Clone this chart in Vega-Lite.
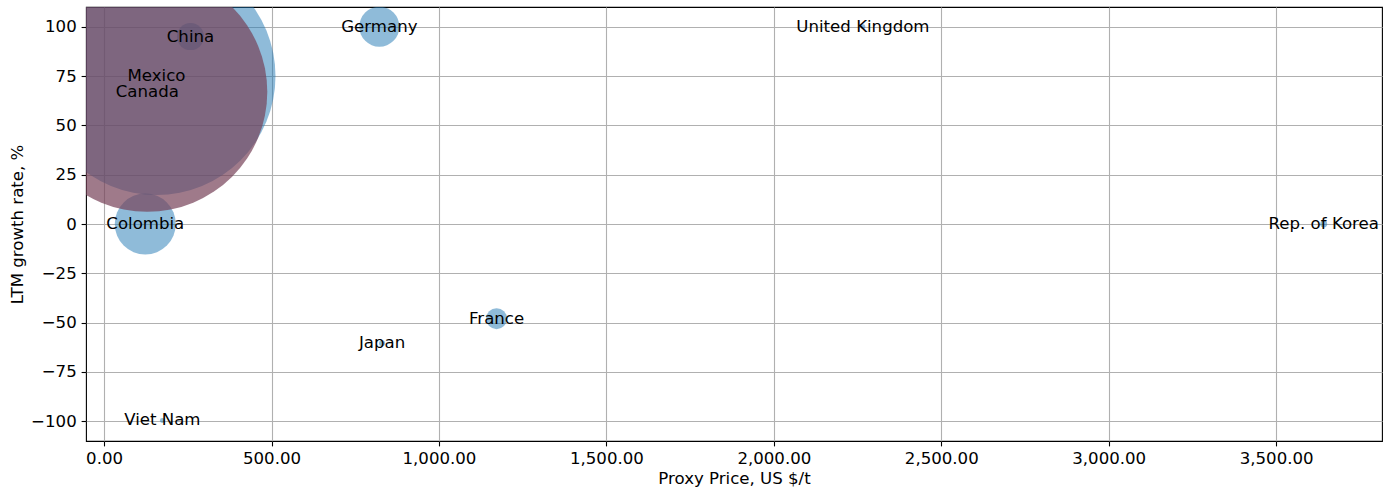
{
  "$schema": "https://vega.github.io/schema/vega-lite/v6.json",
  "width": 1296,
  "height": 434,
  "autosize": {"type": "none"},
  "padding": {"left": 86, "top": 7, "right": 12, "bottom": 50},
  "background": "white",
  "config": {
    "font": "DejaVu Sans",
    "view": {"stroke": "black", "strokeWidth": 1.1},
    "axis": {
      "grid": true,
      "gridColor": "#b0b0b0",
      "gridWidth": 1.1,
      "domain": false,
      "tickColor": "black",
      "tickSize": 4.9,
      "tickWidth": 1.1,
      "labelFont": "DejaVu Sans",
      "labelFontSize": 16.6,
      "labelColor": "black",
      "labelPadding": 4.9,
      "titleFont": "DejaVu Sans",
      "titleFontSize": 16.6,
      "titleFontWeight": "normal",
      "titleColor": "black",
      "zindex": 1
    }
  },
  "data": {
    "values": [
      {"country": "Mexico", "price": 156.5, "growth": 75, "volume": 14161},
      {"country": "China", "price": 258, "growth": 95, "volume": 182},
      {"country": "Germany", "price": 822, "growth": 100, "volume": 400},
      {"country": "United Kingdom", "price": 2266, "growth": 100, "volume": 6},
      {"country": "Colombia", "price": 123, "growth": 0, "volume": 930},
      {"country": "Rep. of Korea", "price": 3642, "growth": 0, "volume": 12},
      {"country": "France", "price": 1172, "growth": -48, "volume": 110},
      {"country": "Japan", "price": 830, "growth": -60.5, "volume": 9},
      {"country": "Viet Nam", "price": 174, "growth": -99.6, "volume": 6},
      {"country": "Canada", "price": 129, "growth": 67, "volume": 14400}
    ]
  },
  "encoding": {
    "x": {
      "field": "price",
      "type": "quantitative",
      "scale": {"domain": [-54, 3816], "nice": false, "zero": false},
      "axis": {
        "title": "Proxy Price, US $/t",
        "values": [0, 500, 1000, 1500, 2000, 2500, 3000, 3500],
        "format": ",.2f",
        "titlePadding": 3.5
      }
    },
    "y": {
      "field": "growth",
      "type": "quantitative",
      "scale": {"domain": [-110, 110], "nice": false, "zero": false},
      "axis": {
        "title": "LTM growth rate, %",
        "values": [-100, -75, -50, -25, 0, 25, 50, 75, 100],
        "format": "d",
        "titlePadding": 5
      }
    }
  },
  "layer": [
    {
      "transform": [{"filter": "datum.country !== 'Canada'"}],
      "mark": {"type": "circle", "color": "#1f77b4", "opacity": 0.5, "clip": true},
      "encoding": {
        "size": {
          "field": "volume",
          "type": "quantitative",
          "scale": {"type": "linear", "domain": [0, 14400], "range": [0, 57600], "zero": true},
          "legend": null
        }
      }
    },
    {
      "transform": [{"filter": "datum.country === 'Canada'"}],
      "mark": {"type": "circle", "color": "#764158", "opacity": 0.7, "clip": true},
      "encoding": {
        "size": {
          "field": "volume",
          "type": "quantitative",
          "scale": {"type": "linear", "domain": [0, 14400], "range": [0, 57600], "zero": true},
          "legend": null
        }
      }
    },
    {
      "mark": {"type": "text", "font": "DejaVu Sans", "fontSize": 16.6, "color": "black", "align": "center", "baseline": "middle"},
      "encoding": {
        "text": {"field": "country", "type": "nominal"}
      }
    }
  ]
}
